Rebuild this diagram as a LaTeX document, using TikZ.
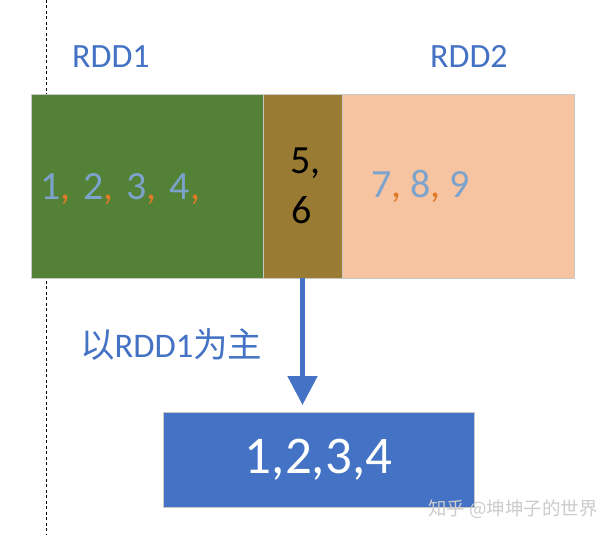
\documentclass[tikz,border=0pt]{standalone}
\usepackage{fontspec}
\setmainfont{Carlito}
\newfontfamily\cjk{Noto Sans CJK SC}
\usetikzlibrary{arrows.meta}
\definecolor{rddgreen}{HTML}{538135}
\definecolor{rddbrown}{HTML}{9A7B33}
\definecolor{rddpeach}{HTML}{F7C4A1}
\definecolor{rddblue}{HTML}{4472C4}
\definecolor{numblue}{HTML}{7BA3CC}
\definecolor{commaorange}{HTML}{E07B2A}
\definecolor{edgegray}{HTML}{C8C8C8}
\newcommand{\oc}{{\color{commaorange},}}
\tikzset{
  blockbox/.style={draw=edgegray, line width=0.8pt, inner sep=0pt, outer sep=0pt},
  titletext/.style={text=rddblue, font=\fontsize{34}{40}\selectfont, inner sep=0pt, anchor=base west},
  numtext/.style={text=numblue, font=\fontsize{40}{48}\selectfont, inner sep=0pt, anchor=base west},
  blacknum/.style={text=black, font=\fontsize{40}{48}\selectfont, inner sep=0pt, anchor=base west},
  mainarrow/.style={draw=rddblue, line width=5pt, -{Triangle[width=29pt,length=29pt]}},
}
\begin{document}
\begin{tikzpicture}[x=1pt,y=-1pt]
\useasboundingbox (0,0) rectangle (611,535);
\fill[white] (0,0) rectangle (611,535);
% dashed vertical line
\draw[black, line width=0.8pt, dash pattern=on 3pt off 2.5pt] (46,0) -- (46,535);
% titles
\node[titletext] (t1) at (72,68) {RDD1};
\node[titletext] (t2) at (430,68) {RDD2};
% blocks
\node[blockbox, fill=rddgreen, minimum width=232pt, minimum height=184pt] (g) at (147,186) {};
\node[blockbox, fill=rddbrown, minimum width=79pt, minimum height=184pt] (m) at (302.5,186) {};
\node[blockbox, fill=rddpeach, minimum width=232pt, minimum height=184pt] (p) at (458,186) {};
% numbers
\node[numtext] (n1) at (40,199) {1\oc\hspace{13pt}2\oc\hspace{13pt}3\oc\hspace{13pt}4\oc};
\node[blacknum] (n5) at (290,173) {5,};
\node[blacknum] (n6) at (291,223) {6};
\node[numtext] (n7) at (371,197) {7\oc{} 8\oc{} 9};
% result box
\node[blockbox, fill=rddblue, minimum width=311pt, minimum height=95pt, text=white, font=\fontsize{53}{60}\selectfont] (res) at (318.5,459.5) {1,2,3,4};
% arrow
\coordinate (tip) at (m.south |- res.north);
\draw[mainarrow, shorten >=7pt] (m.south) -- (tip);
% label
\node[text=rddblue, font=\fontsize{34.5}{40}\selectfont, inner sep=0pt, anchor=base west] (lbl) at (80,357) {{\cjk 以}RDD1{\cjk 为主}};
% watermark
\node[text=gray!40, font=\cjk\fontsize{18.5}{22}\selectfont, inner sep=0pt, anchor=base west] (wm) at (428,515) {知乎 @坤坤子的世界};
\end{tikzpicture}
\end{document}
